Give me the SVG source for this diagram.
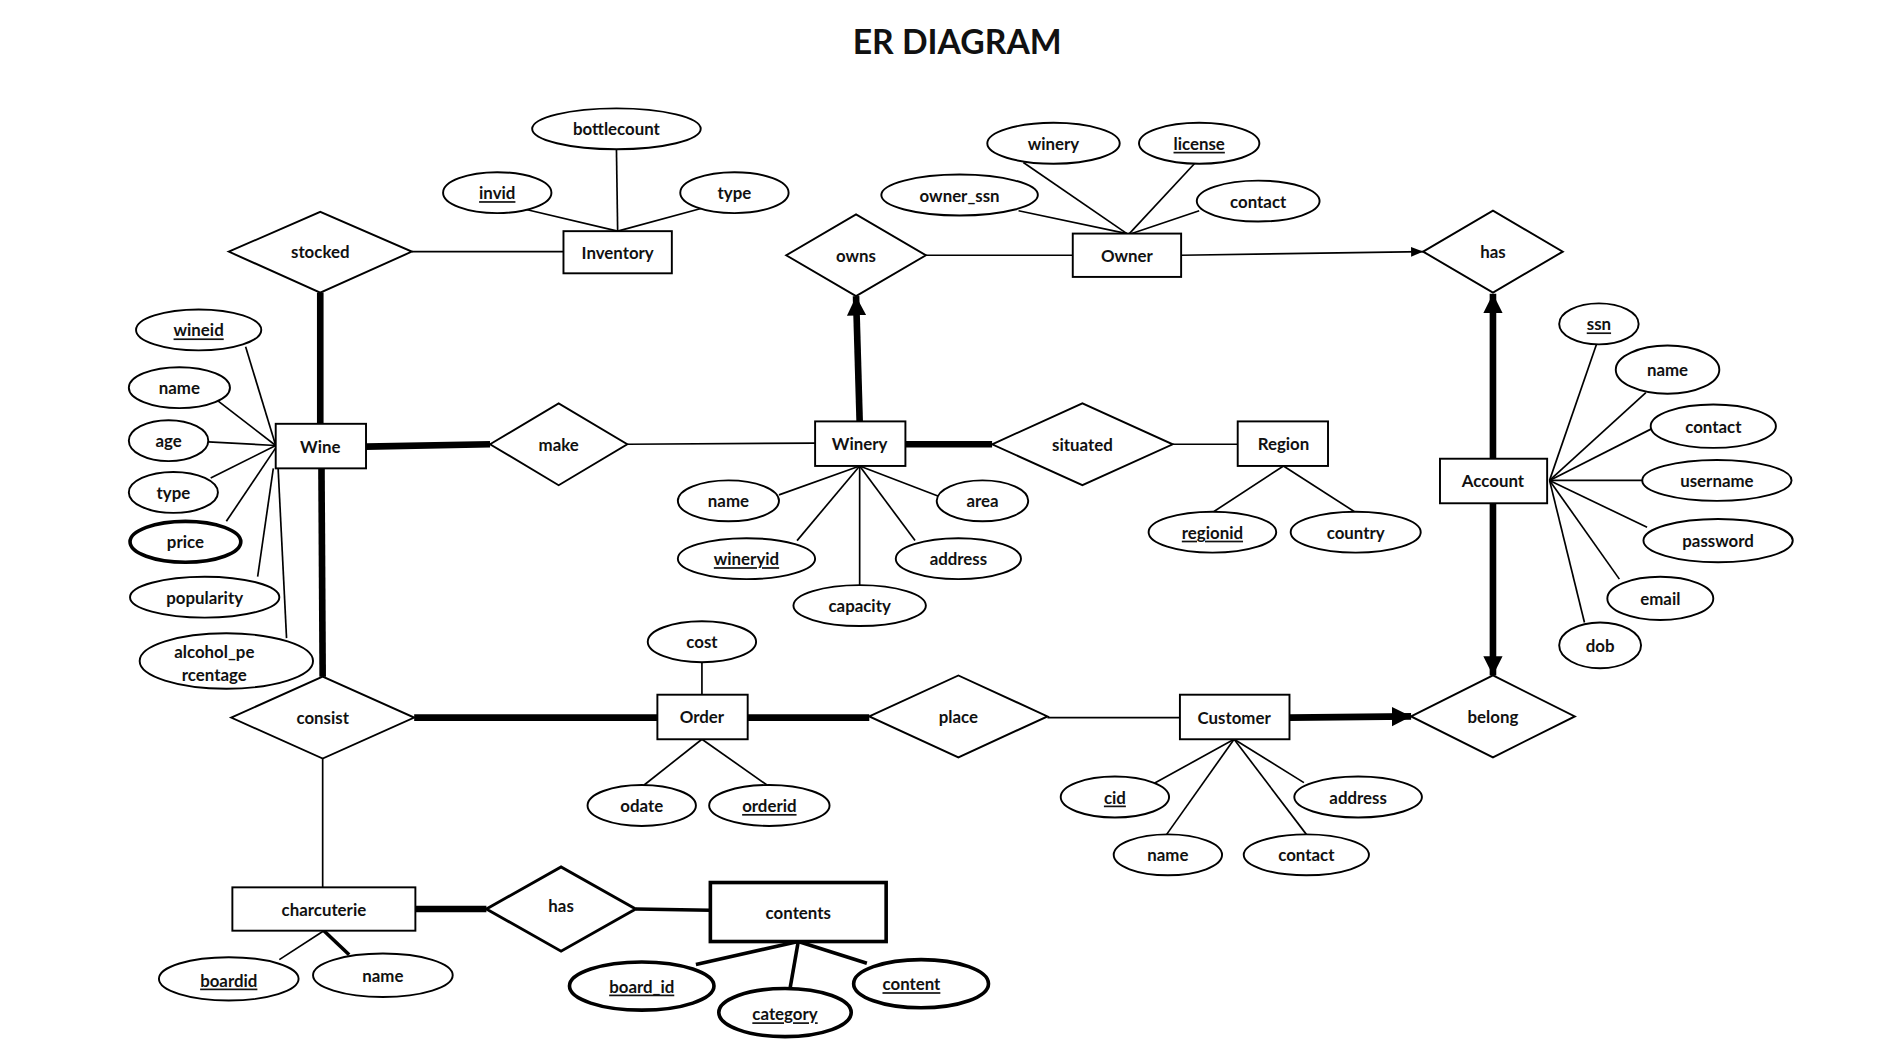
<svg xmlns="http://www.w3.org/2000/svg" width="1878" height="1062" viewBox="0 0 1878 1062">
<style>
.e{fill:#fff;stroke:#000;stroke-width:1.6}
.w{fill:#fff;stroke:#000;stroke-width:3}
.r{fill:#fff;stroke:#000;stroke-width:1.6}
t,text{font-family:Lato,"Open Sans","Liberation Sans",sans-serif;font-weight:bold;font-size:14px;text-anchor:middle;dominant-baseline:central;fill:#111}
.u{text-decoration:underline}
.l{stroke:#000;stroke-width:1.4;fill:none}
.t{stroke:#000;stroke-width:5.5;fill:none}
.m{stroke:#000;stroke-width:3;fill:none}
</style>
<defs>
<marker id="ab" markerUnits="userSpaceOnUse" markerWidth="16" markerHeight="20" refX="16" refY="10" orient="auto"><path d="M0,2 L16,10 L0,18 Z" fill="#000"/></marker>
<marker id="as" markerUnits="userSpaceOnUse" markerWidth="10" markerHeight="10" refX="10" refY="5" orient="auto"><path d="M0,1 L10,5 L0,9 Z" fill="#000"/></marker>
</defs>
<rect width="1878" height="1062" fill="#fff"/>
<g transform="scale(1.204)">
<text x="795" y="34" style="font-size:28px">ER DIAGRAM</text>
<g id="connectors">
<line class="l" x1="512" y1="124" x2="513" y2="192"/>
<line class="l" x1="437" y1="174" x2="513" y2="192"/>
<line class="l" x1="583" y1="173" x2="513" y2="192"/>
<line class="l" x1="342" y1="209" x2="468" y2="209"/>
<line class="t" x1="266" y1="243" x2="266" y2="352"/>
<line class="l" x1="204" y1="288" x2="229" y2="370"/>
<line class="l" x1="181" y1="333" x2="229" y2="370"/>
<line class="l" x1="173" y1="367" x2="229" y2="370"/>
<line class="l" x1="175" y1="397" x2="229" y2="370"/>
<line class="l" x1="188" y1="433" x2="229" y2="372"/>
<line class="l" x1="214" y1="479" x2="227" y2="389"/>
<line class="l" x1="238" y1="530" x2="231" y2="389"/>
<line class="t" x1="304" y1="371" x2="407" y2="369"/>
<line class="l" x1="521" y1="369" x2="677" y2="368"/>
<line class="t" x1="714" y1="350" x2="711" y2="246" marker-end="url(#ab)"/>
<line class="l" x1="769" y1="212" x2="891" y2="212"/>
<line class="l" x1="850" y1="135" x2="936" y2="194"/>
<line class="l" x1="992" y1="136" x2="938" y2="194"/>
<line class="l" x1="846" y1="175" x2="936" y2="194"/>
<line class="l" x1="996" y1="175" x2="940" y2="194"/>
<line class="l" x1="981" y1="212" x2="1182" y2="209" marker-end="url(#as)"/>
<line class="t" x1="1240" y1="381" x2="1240" y2="244" marker-end="url(#ab)"/>
<line class="t" x1="1240" y1="418" x2="1240" y2="561" marker-end="url(#ab)"/>
<line class="l" x1="1287" y1="399" x2="1326" y2="286"/>
<line class="l" x1="1287" y1="399" x2="1367" y2="326"/>
<line class="l" x1="1287" y1="399" x2="1372" y2="356"/>
<line class="l" x1="1287" y1="399" x2="1364" y2="399"/>
<line class="l" x1="1287" y1="399" x2="1368" y2="438"/>
<line class="l" x1="1287" y1="399" x2="1345" y2="481"/>
<line class="l" x1="1287" y1="399" x2="1316" y2="517"/>
<line class="t" x1="752" y1="369" x2="824" y2="369"/>
<line class="l" x1="974" y1="369" x2="1028" y2="369"/>
<line class="l" x1="1066" y1="387" x2="1008" y2="425"/>
<line class="l" x1="1066" y1="387" x2="1125" y2="425"/>
<line class="l" x1="714" y1="387" x2="647" y2="411"/>
<line class="l" x1="714" y1="387" x2="662" y2="449"/>
<line class="l" x1="714" y1="387" x2="714" y2="486"/>
<line class="l" x1="714" y1="387" x2="760" y2="449"/>
<line class="l" x1="714" y1="387" x2="779" y2="412"/>
<line class="t" x1="267" y1="389" x2="268" y2="562"/>
<line class="t" x1="344" y1="596" x2="546" y2="596"/>
<line class="l" x1="583" y1="550" x2="583" y2="577"/>
<line class="l" x1="583" y1="614" x2="535" y2="652"/>
<line class="l" x1="583" y1="614" x2="637" y2="652"/>
<line class="t" x1="621" y1="596" x2="722" y2="596"/>
<line class="l" x1="870" y1="596" x2="980" y2="596"/>
<line class="t" x1="1071" y1="596" x2="1172" y2="595" marker-end="url(#ab)"/>
<line class="l" x1="1025" y1="614" x2="958" y2="651"/>
<line class="l" x1="1025" y1="614" x2="1083" y2="650"/>
<line class="l" x1="1025" y1="614" x2="969" y2="693"/>
<line class="l" x1="1025" y1="614" x2="1085" y2="693"/>
<line class="l" x1="268" y1="630" x2="268" y2="737"/>
<line class="t" x1="345" y1="755" x2="404" y2="755"/>
<line class="m" x1="528" y1="755" x2="590" y2="756"/>
<line class="l" x1="269" y1="773" x2="232" y2="797"/>
<line class="m" x1="269" y1="773" x2="290" y2="793"/>
<line class="m" x1="663" y1="782" x2="578" y2="801"/>
<line class="m" x1="663" y1="782" x2="656" y2="822"/>
<line class="m" x1="663" y1="782" x2="720" y2="800"/>
</g>
<g id="Inventory"><rect class="r" x="468" y="192" width="90" height="35"/><text x="513" y="210">Inventory</text></g>
<g id="bottlecount"><ellipse class="e" cx="512" cy="107" rx="70" ry="17"/><text x="512" y="107">bottlecount</text></g>
<g id="invid"><ellipse class="e" cx="413" cy="160" rx="45" ry="17"/><text class="u" x="413" y="160">invid</text></g>
<g id="inv_type"><ellipse class="e" cx="610" cy="160" rx="45" ry="17"/><text x="610" y="160">type</text></g>
<g id="stocked"><polygon class="r" points="190,209 266,176 342,209 266,243"/><text x="266" y="209">stocked</text></g>
<g id="Wine"><rect class="r" x="229" y="352" width="75" height="37"/><text x="266" y="371">Wine</text></g>
<g id="wineid"><ellipse class="e" cx="165" cy="274" rx="52" ry="17"/><text class="u" x="165" y="274">wineid</text></g>
<g id="wine_name"><ellipse class="e" cx="149" cy="322" rx="42" ry="17"/><text x="149" y="322">name</text></g>
<g id="age"><ellipse class="e" cx="140" cy="366" rx="33" ry="17"/><text x="140" y="366">age</text></g>
<g id="wine_type"><ellipse class="e" cx="144" cy="409" rx="37" ry="17"/><text x="144" y="409">type</text></g>
<g id="price"><ellipse class="w" cx="154" cy="450" rx="46" ry="17"/><text x="154" y="450">price</text></g>
<g id="popularity"><ellipse class="e" cx="170" cy="496" rx="62" ry="17"/><text x="170" y="496">popularity</text></g>
<g id="alcohol"><ellipse class="e" cx="188" cy="549" rx="72" ry="23"/><text x="178" y="541">alcohol_pe</text><text x="178" y="560">rcentage</text></g>
<g id="make"><polygon class="r" points="407,369 464,335 521,369 464,403"/><text x="464" y="369">make</text></g>
<g id="Winery"><rect class="r" x="677" y="350" width="75" height="37"/><text x="714" y="368">Winery</text></g>
<g id="winery_name"><ellipse class="e" cx="605" cy="416" rx="42" ry="17"/><text x="605" y="416">name</text></g>
<g id="area"><ellipse class="e" cx="816" cy="416" rx="38" ry="17"/><text x="816" y="416">area</text></g>
<g id="wineryid"><ellipse class="e" cx="620" cy="464" rx="57" ry="17"/><text class="u" x="620" y="464">wineryid</text></g>
<g id="winery_address"><ellipse class="e" cx="796" cy="464" rx="52" ry="17"/><text x="796" y="464">address</text></g>
<g id="capacity"><ellipse class="e" cx="714" cy="503" rx="55" ry="17"/><text x="714" y="503">capacity</text></g>
<g id="owns"><polygon class="r" points="653,212 711,178 769,212 711,246"/><text x="711" y="212">owns</text></g>
<g id="Owner"><rect class="r" x="891" y="194" width="90" height="36"/><text x="936" y="212">Owner</text></g>
<g id="owner_winery"><ellipse class="e" cx="875" cy="119" rx="55" ry="17"/><text x="875" y="119">winery</text></g>
<g id="license"><ellipse class="e" cx="996" cy="119" rx="50" ry="17"/><text class="u" x="996" y="119">license</text></g>
<g id="owner_ssn"><ellipse class="e" cx="797" cy="162" rx="65" ry="17"/><text x="797" y="162">owner_ssn</text></g>
<g id="owner_contact"><ellipse class="e" cx="1045" cy="167" rx="51" ry="17"/><text x="1045" y="167">contact</text></g>
<g id="has_top"><polygon class="r" points="1182,209 1240,175 1298,209 1240,243"/><text x="1240" y="209">has</text></g>
<g id="Account"><rect class="r" x="1196" y="381" width="89" height="37"/><text x="1240" y="399">Account</text></g>
<g id="ssn"><ellipse class="e" cx="1328" cy="269" rx="33" ry="17"/><text class="u" x="1328" y="269">ssn</text></g>
<g id="acc_name"><ellipse class="e" cx="1385" cy="307" rx="43" ry="20"/><text x="1385" y="307">name</text></g>
<g id="acc_contact"><ellipse class="e" cx="1423" cy="354" rx="52" ry="18"/><text x="1423" y="354">contact</text></g>
<g id="username"><ellipse class="e" cx="1426" cy="399" rx="62" ry="17"/><text x="1426" y="399">username</text></g>
<g id="password"><ellipse class="e" cx="1427" cy="449" rx="62" ry="18"/><text x="1427" y="449">password</text></g>
<g id="email"><ellipse class="e" cx="1379" cy="497" rx="44" ry="18"/><text x="1379" y="497">email</text></g>
<g id="dob"><ellipse class="e" cx="1329" cy="536" rx="34" ry="19"/><text x="1329" y="536">dob</text></g>
<g id="situated"><polygon class="r" points="824,369 899,335 974,369 899,403"/><text x="899" y="369">situated</text></g>
<g id="Region"><rect class="r" x="1028" y="350" width="75" height="37"/><text x="1066" y="368">Region</text></g>
<g id="regionid"><ellipse class="e" cx="1007" cy="442" rx="53" ry="17"/><text class="u" x="1007" y="442">regionid</text></g>
<g id="country"><ellipse class="e" cx="1126" cy="442" rx="54" ry="17"/><text x="1126" y="442">country</text></g>
<g id="consist"><polygon class="r" points="192,596 268,562 344,596 268,630"/><text x="268" y="596">consist</text></g>
<g id="Order"><rect class="r" x="546" y="577" width="75" height="37"/><text x="583" y="595">Order</text></g>
<g id="cost"><ellipse class="e" cx="583" cy="533" rx="45" ry="17"/><text x="583" y="533">cost</text></g>
<g id="odate"><ellipse class="e" cx="533" cy="669" rx="45" ry="17"/><text x="533" y="669">odate</text></g>
<g id="orderid"><ellipse class="e" cx="639" cy="669" rx="50" ry="17"/><text class="u" x="639" y="669">orderid</text></g>
<g id="place"><polygon class="r" points="722,595 796,561 870,595 796,629"/><text x="796" y="595">place</text></g>
<g id="Customer"><rect class="r" x="980" y="577" width="91" height="37"/><text x="1025" y="596">Customer</text></g>
<g id="cid"><ellipse class="e" cx="926" cy="662" rx="45" ry="17"/><text class="u" x="926" y="662">cid</text></g>
<g id="cust_address"><ellipse class="e" cx="1128" cy="662" rx="53" ry="17"/><text x="1128" y="662">address</text></g>
<g id="cust_name"><ellipse class="e" cx="970" cy="710" rx="45" ry="17"/><text x="970" y="710">name</text></g>
<g id="cust_contact"><ellipse class="e" cx="1085" cy="710" rx="52" ry="17"/><text x="1085" y="710">contact</text></g>
<g id="belong"><polygon class="r" points="1172,595 1240,561 1308,595 1240,629"/><text x="1240" y="595">belong</text></g>
<g id="charcuterie"><rect class="r" x="193" y="737" width="152" height="36"/><text x="269" y="755">charcuterie</text></g>
<g id="boardid"><ellipse class="e" cx="190" cy="813" rx="58" ry="18"/><text class="u" x="190" y="814">boardid</text></g>
<g id="ch_name"><ellipse class="e" cx="318" cy="810" rx="58" ry="18"/><text x="318" y="810">name</text></g>
<g id="has_bottom"><polygon class="w" style="stroke-width:2.4" points="404,755 466,720 528,755 466,790"/><text x="466" y="752">has</text></g>
<g id="contents"><rect class="w" x="590" y="733" width="146" height="49"/><text x="663" y="758">contents</text></g>
<g id="board_id"><ellipse class="w" cx="533" cy="819" rx="60" ry="20"/><text class="u" x="533" y="819">board_id</text></g>
<g id="category"><ellipse class="w" cx="652" cy="841" rx="55" ry="20"/><text class="u" x="652" y="842">category</text></g>
<g id="content"><ellipse class="w" cx="765" cy="817" rx="56" ry="20"/><text class="u" x="757" y="817">content</text></g>
</g>
</svg>
